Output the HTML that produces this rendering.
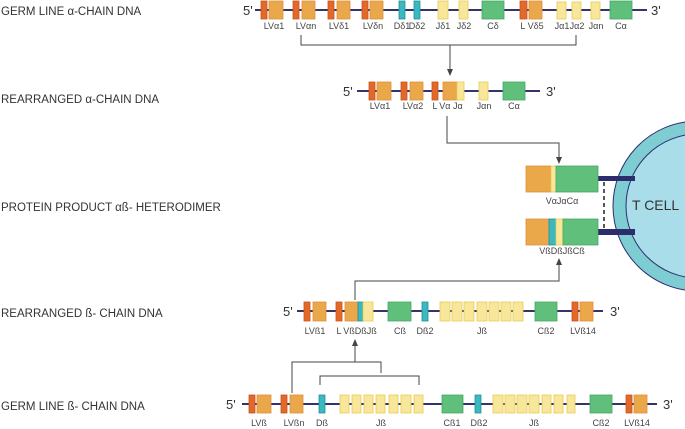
<!DOCTYPE html>
<html><head><meta charset="utf-8"><style>
html,body{margin:0;padding:0;background:#fff;}
svg{display:block;font-family:"Liberation Sans",sans-serif;}
.r{fill:#e2692a;stroke:#c9541d;stroke-width:0.8}
.o{fill:#eba84a;stroke:#e0903a;stroke-width:0.8}
.y{fill:#f8e69a;stroke:#e6cc55;stroke-width:0.8}
.t{fill:#3bb8c0;stroke:#238f99;stroke-width:0.8}
.g{fill:#5fbf7b;stroke:#45a863;stroke-width:0.8}
.ln{stroke:#33336e;stroke-width:2}
.c{stroke:#444;stroke-width:1;fill:none}
.lb{font-size:9px;fill:#444;text-anchor:middle}
.h{font-size:11.5px;fill:#333}
.p{font-size:13px;fill:#333}
</style></head><body>
<svg width="685" height="429" viewBox="0 0 685 429" xmlns="http://www.w3.org/2000/svg">
<text class="h" x="1" y="15">GERM LINE α-CHAIN DNA</text>
<text class="h" x="1" y="103">REARRANGED α-CHAIN DNA</text>
<text class="h" x="1" y="211">PROTEIN PRODUCT αß- HETERODIMER</text>
<text class="h" x="1" y="317">REARRANGED ß- CHAIN DNA</text>
<text class="h" x="1" y="410">GERM LINE ß- CHAIN DNA</text>

<!-- Row 1 -->
<text class="p" x="243" y="15">5'</text><text class="p" x="651" y="15">3'</text>
<line class="ln" x1="255" y1="10" x2="647" y2="10"/>
<rect class="r" x="261" y="1" width="6" height="18"/><rect class="o" x="269" y="1" width="14" height="18"/>
<rect class="r" x="293" y="1" width="6" height="18"/><rect class="o" x="302" y="1" width="13" height="18"/>
<rect class="r" x="328" y="1" width="6" height="18"/><rect class="o" x="337" y="1" width="13" height="18"/>
<rect class="r" x="362" y="1" width="6" height="18"/><rect class="o" x="370" y="1" width="13" height="18"/>
<rect class="t" x="399" y="1" width="6" height="18"/><rect class="t" x="414" y="1" width="6" height="18"/>
<rect class="y" x="438" y="1" width="10" height="18"/><rect class="y" x="459" y="1" width="9" height="18"/>
<rect class="g" x="482" y="1" width="22" height="18"/>
<rect class="r" x="520" y="1" width="7" height="18"/><rect class="o" x="529" y="1" width="13" height="18"/>
<rect class="y" x="557" y="2" width="9" height="17"/><rect class="y" x="572" y="2" width="9" height="17"/><rect class="y" x="591" y="2" width="9" height="17"/>
<rect class="g" x="610" y="1" width="22" height="18"/>
<g class="lb">
<text x="274" y="29">LVα1</text><text x="306" y="29">LVαn</text><text x="339" y="29">LVδ1</text><text x="373" y="29">LVδn</text>
<text x="402" y="29">Dδ1</text><text x="417" y="29">Dδ2</text><text x="443" y="29">Jδ1</text><text x="464" y="29">Jδ2</text>
<text x="493" y="29">Cδ</text><text x="532" y="29">L Vδ5</text><text x="562" y="29">Jα1</text><text x="577" y="29">Jα2</text><text x="596" y="29">Jαn</text><text x="621" y="29">Cα</text>
</g>
<polyline class="c" points="301,35 301,45 576,45 576,35"/>
<line class="c" x1="450" y1="45" x2="450" y2="70"/>
<polygon points="447,69 453,69 450,76" fill="#444"/>

<!-- Row 2 -->
<text class="p" x="343" y="96">5'</text><text class="p" x="546" y="96">3'</text>
<line class="ln" x1="357" y1="91" x2="540" y2="91"/>
<rect class="r" x="369" y="82" width="6" height="18"/><rect class="o" x="377" y="82" width="14" height="18"/>
<rect class="r" x="401" y="82" width="6" height="18"/><rect class="o" x="410" y="82" width="13" height="18"/>
<rect class="r" x="432" y="82" width="6" height="18"/><rect class="o" x="443" y="82" width="14" height="18"/><rect class="y" x="457" y="82" width="7" height="18"/>
<rect class="y" x="479" y="82" width="9" height="18"/>
<rect class="g" x="503" y="82" width="22" height="18"/>
<g class="lb">
<text x="380" y="109">LVα1</text><text x="413" y="109">LVα2</text><text x="435" y="109">L</text><text x="451" y="109">Vα Jα</text><text x="484" y="109">Jαn</text><text x="514" y="109">Cα</text>
</g>
<polyline class="c" points="447,116 447,143 559,143 559,158"/>
<polygon points="556,157 562,157 559,164" fill="#444"/>

<!-- T cell -->
<circle cx="698" cy="206" r="85" fill="#7dcdd3" stroke="#2d2d6e" stroke-width="1"/>
<circle cx="698" cy="206" r="72" fill="#a9dde9" stroke="#2d2d6e" stroke-width="1"/>
<text x="632" y="210" font-size="14" fill="#333">T CELL</text>
<rect x="598" y="176" width="37" height="5" fill="#2d2d6e"/>
<rect x="598" y="229" width="37" height="6" fill="#2d2d6e"/>
<line x1="604" y1="182" x2="604" y2="229" stroke="#222" stroke-width="1.5" stroke-dasharray="4,3"/>
<rect class="o" x="526" y="166" width="25" height="26"/><rect class="y" x="551" y="166" width="5" height="26"/><rect class="g" x="556" y="166" width="42" height="26"/>
<text class="lb" x="562" y="204" font-size="8">VαJαCα</text>
<rect class="o" x="526" y="219" width="23" height="26"/><rect class="t" x="549" y="219" width="7" height="26"/><rect class="y" x="556" y="219" width="7" height="26"/><rect class="g" x="563" y="219" width="35" height="26"/>
<text class="lb" x="562" y="254" font-size="8">VßDßJßCß</text>
<polyline class="c" points="355,300 355,281 559,281 559,264"/>
<polygon points="556,265 562,265 559,258" fill="#444"/>

<!-- Row 4 -->
<text class="p" x="283" y="316">5'</text><text class="p" x="610" y="316">3'</text>
<line class="ln" x1="297" y1="311" x2="603" y2="311"/>
<rect class="r" x="304" y="302" width="6" height="19"/><rect class="o" x="313" y="302" width="13" height="19"/>
<rect class="r" x="336" y="302" width="6" height="19"/><rect class="o" x="345" y="302" width="13" height="19"/><rect class="t" x="358" y="302" width="5" height="19"/><rect class="y" x="363" y="302" width="10" height="19"/>
<rect class="g" x="388" y="302" width="23" height="19"/>
<rect class="t" x="422" y="302" width="6" height="19"/>
<rect class="y" x="440" y="302" width="10" height="19"/><rect class="y" x="452" y="302" width="10" height="19"/><rect class="y" x="464" y="302" width="10" height="19"/><rect class="y" x="477" y="302" width="10" height="19"/><rect class="y" x="489" y="302" width="10" height="19"/><rect class="y" x="501" y="302" width="10" height="19"/><rect class="y" x="513" y="302" width="10" height="19"/>
<rect class="g" x="535" y="302" width="22" height="19"/>
<rect class="r" x="572" y="302" width="6" height="19"/><rect class="o" x="580" y="302" width="13" height="19"/>
<g class="lb">
<text x="315" y="334">LVß1</text><text x="339" y="334">L</text><text x="360" y="334">VßDßJß</text><text x="400" y="334">Cß</text><text x="425" y="334">Dß2</text><text x="482" y="334">Jß</text><text x="546" y="334">Cß2</text><text x="583" y="334">LVß14</text>
</g>
<line class="c" x1="355" y1="362" x2="355" y2="345"/>
<polygon points="352,346 358,346 355,339" fill="#444"/>
<polyline class="c" points="292,393 292,362 381,362 381,373"/>
<polyline class="c" points="320,385 320,376 419,376 419,385"/>

<!-- Row 5 -->
<text class="p" x="226" y="409">5'</text><text class="p" x="663" y="409">3'</text>
<line class="ln" x1="242" y1="404" x2="657" y2="404"/>
<rect class="r" x="249" y="395" width="6" height="18"/><rect class="o" x="257" y="395" width="14" height="18"/>
<rect class="r" x="281" y="395" width="6" height="18"/><rect class="o" x="290" y="395" width="13" height="18"/>
<rect class="t" x="319" y="395" width="6" height="18"/>
<rect class="y" x="340" y="395" width="9" height="18"/><rect class="y" x="352" y="395" width="9" height="18"/><rect class="y" x="364" y="395" width="9" height="18"/><rect class="y" x="376" y="395" width="9" height="18"/><rect class="y" x="389" y="395" width="9" height="18"/><rect class="y" x="401" y="395" width="10" height="18"/><rect class="y" x="414" y="395" width="9" height="18"/>
<rect class="g" x="442" y="395" width="21" height="18"/>
<rect class="t" x="475" y="395" width="6" height="18"/>
<rect class="y" x="493" y="395" width="10" height="18"/><rect class="y" x="505" y="395" width="10" height="18"/><rect class="y" x="517" y="395" width="10" height="18"/><rect class="y" x="529" y="395" width="10" height="18"/><rect class="y" x="542" y="395" width="9" height="18"/><rect class="y" x="554" y="395" width="9" height="18"/><rect class="y" x="567" y="395" width="8" height="18"/>
<rect class="g" x="590" y="395" width="22" height="18"/>
<rect class="r" x="626" y="395" width="6" height="18"/><rect class="o" x="634" y="395" width="13" height="18"/>
<g class="lb">
<text x="259" y="426">LVß</text><text x="294" y="426">LVßn</text><text x="322" y="426">Dß</text><text x="381" y="426">Jß</text><text x="452" y="426">Cß1</text><text x="479" y="426">Dß2</text><text x="534" y="426">Jß</text><text x="601" y="426">Cß2</text><text x="637" y="426">LVß14</text>
</g>
</svg>
</body></html>
